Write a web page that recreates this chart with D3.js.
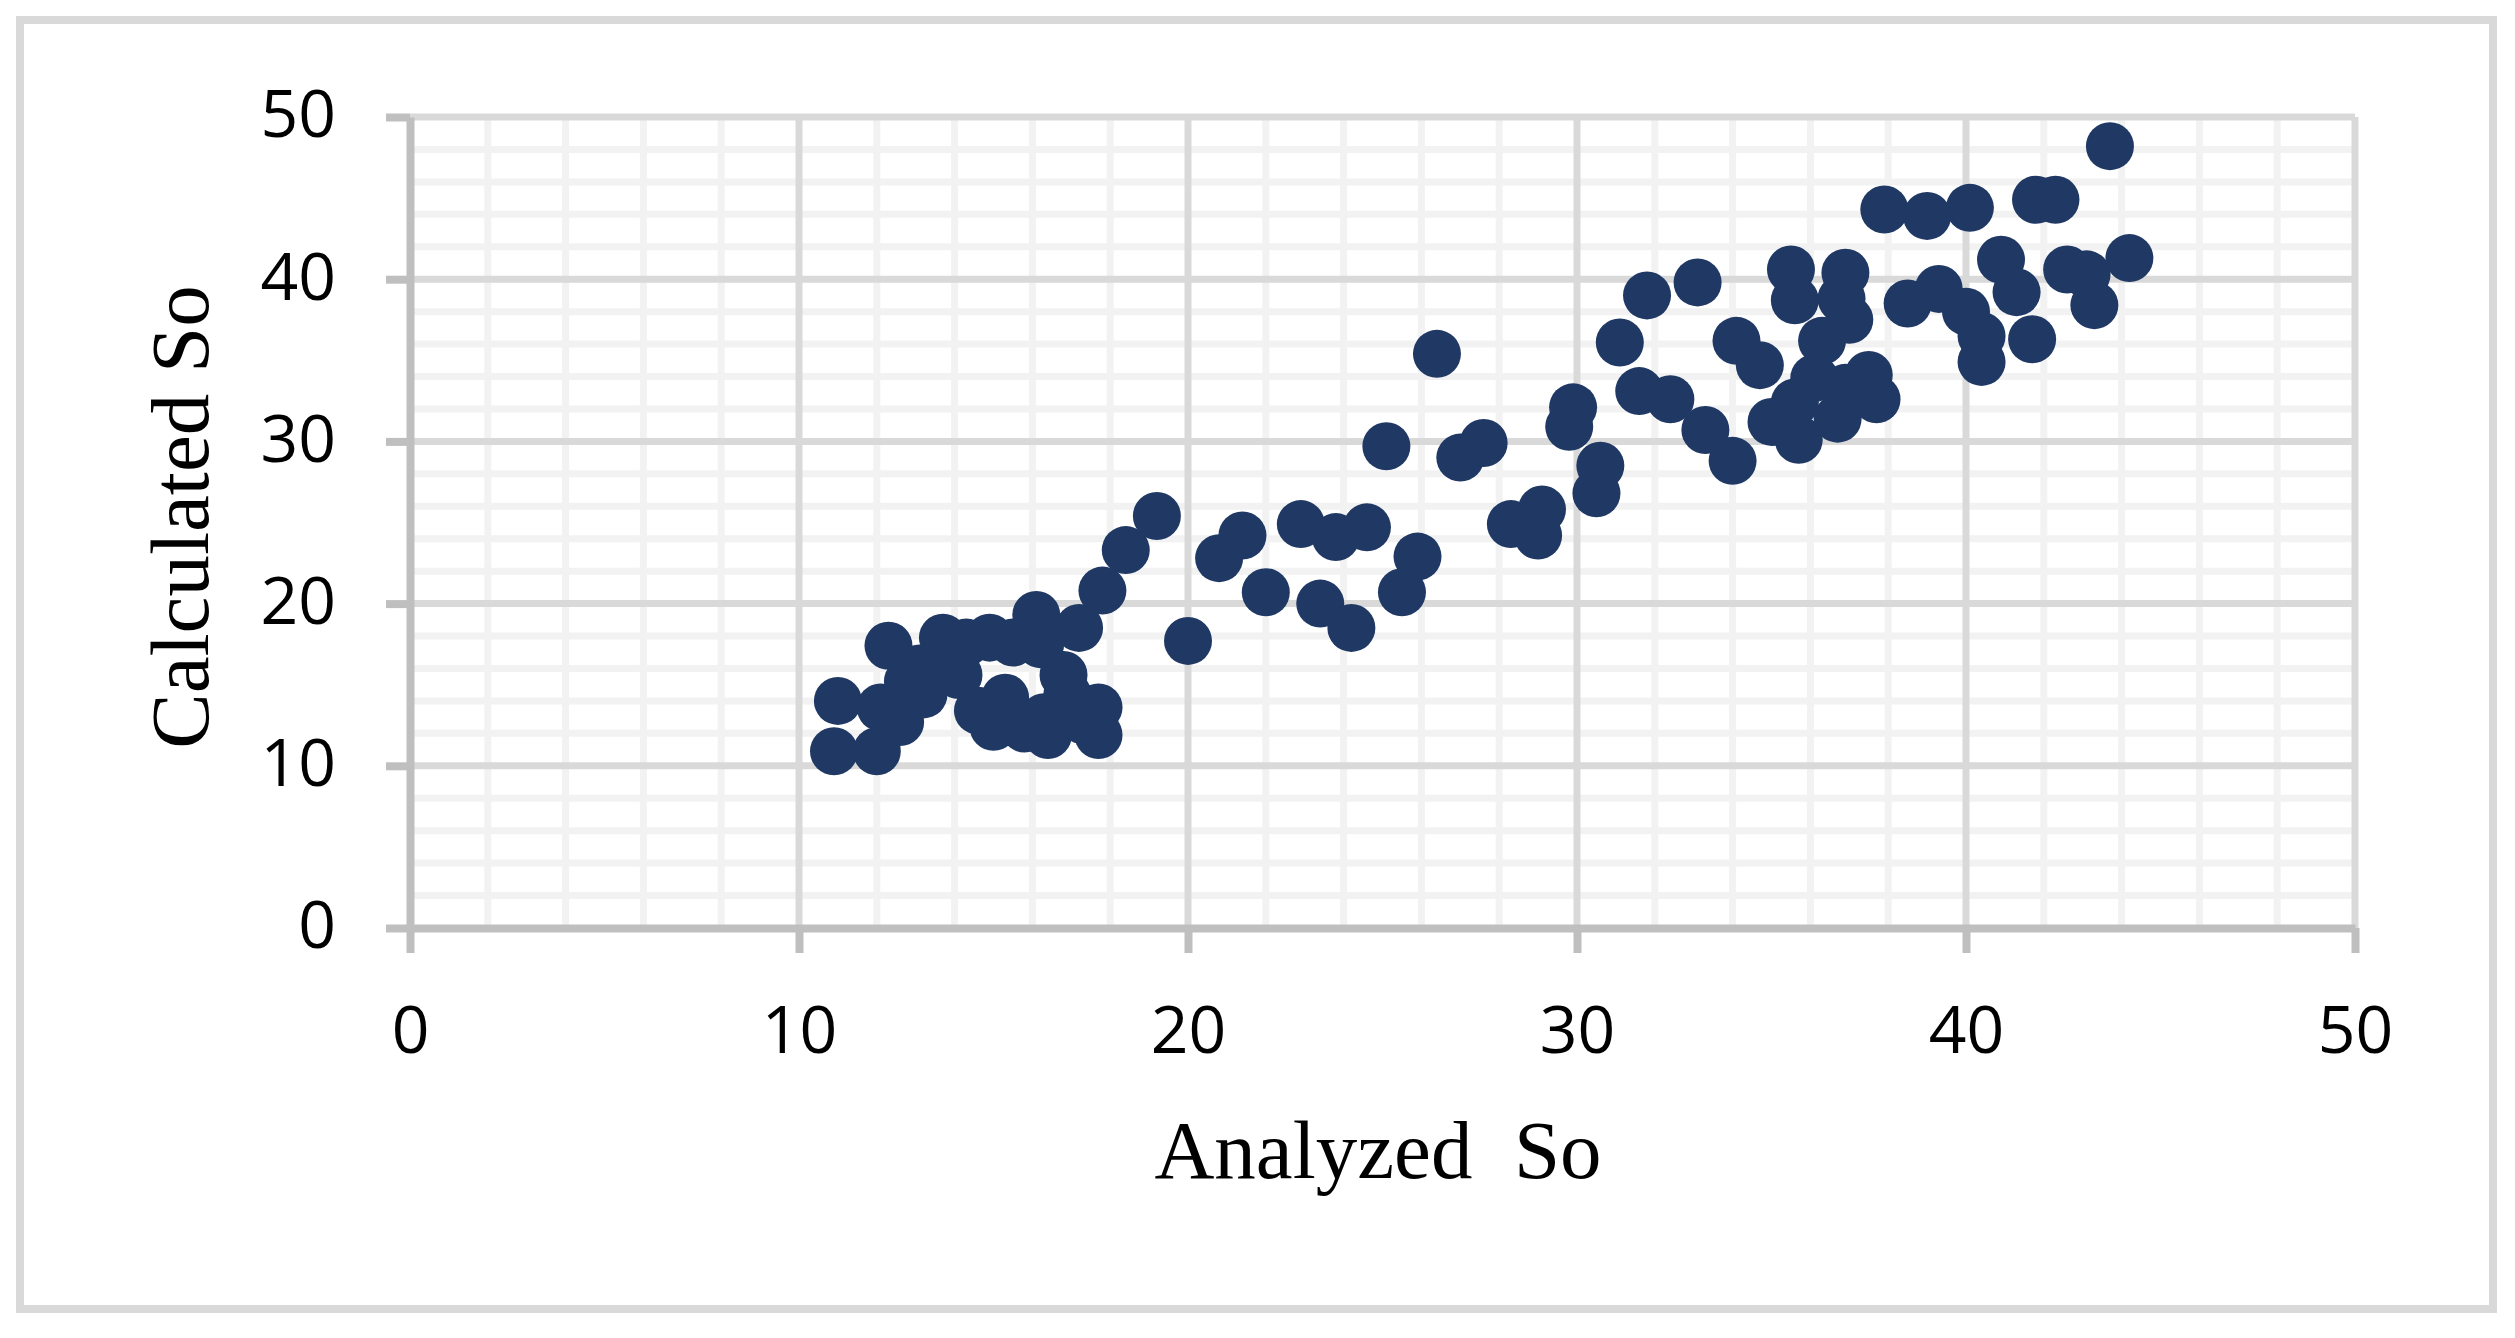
<!DOCTYPE html>
<html>
<head>
<meta charset="utf-8">
<script src="https://cdn.jsdelivr.net/npm/d3@7"></script>
<style>
  body { margin: 0; background: #fff; }
  .tick text { font-family: "Open Sans", sans-serif; font-size: 66px; fill: #000; }
  .title { font-family: "Liberation Serif", "Times New Roman", serif; font-size: 83px; fill: #000; white-space: pre; }
</style>
</head>
<body>
<div id="chart"></div>
<script>
// values (Analyzed So vs Calculated So)
let analyzedSo = [
  10.9, 11.0, 12.0, 12.1, 12.3, 12.6, 13.2, 13.1, 13.7, 14.3, 14.9, 14.6, 15.3, 15.0, 15.5,
  16.1, 16.8, 17.2, 16.4, 15.8, 17.7, 17.7, 17.0, 16.9, 17.8, 18.4, 19.2, 20.0, 14.1, 16.2,
  12.8, 16.3, 17.3,
  20.8, 21.4, 22.0, 22.9, 23.8, 24.6, 23.4, 24.2, 25.9, 25.5, 25.1, 26.4, 27.0, 27.6, 28.3,
  29.1, 29.0, 29.9, 29.8, 30.6, 30.5, 31.1, 31.6, 32.4,
  31.8, 33.1, 33.3, 34.0, 34.1, 34.7, 35.5, 35.6, 36.9, 37.0, 36.3, 36.1, 37.5, 37.7, 35.0,
  35.7, 35.6, 36.7, 36.9, 38.5, 39.3, 40.0, 40.4, 40.4, 36.8,
  37.9, 39.0, 40.1, 41.8, 42.3, 43.7, 40.9, 41.3, 41.7, 42.6, 43.1, 43.3, 44.2
];
let calculatedSo = [
  10.9, 14.0, 10.9, 13.6, 17.4, 12.7, 14.4, 16.0, 17.9, 17.6, 17.9, 13.4, 14.2, 12.4, 17.6,
  19.3, 15.6, 18.5, 11.9, 12.3, 11.9, 13.6, 13.2, 14.4, 20.8, 23.3, 25.4, 17.7, 15.6, 17.5,
  15.2, 13.0, 12.8,
  22.8, 24.2, 20.7, 24.9, 24.1, 24.7, 20.0, 18.5, 22.9, 20.7, 29.7, 35.4, 29.0, 29.9, 24.9,
  25.8, 24.2, 32.1, 30.9, 28.5, 26.8, 36.1, 33.1, 32.6,
  39.0, 39.8, 30.7, 28.8, 36.2, 34.7, 40.6, 38.7, 40.4, 37.5, 36.2, 33.9, 34.1, 32.6, 31.2,
  30.1, 32.4, 31.4, 33.3, 38.5, 39.4, 38.0, 36.5, 34.9, 38.8,
  44.3, 43.9, 44.4, 44.9, 44.9, 48.2, 41.2, 39.2, 36.3, 40.6, 40.3, 38.4, 41.3
];
let majorTicks = [0, 10, 20, 30, 40, 50];
let minorTicks = [2, 4, 6, 8, 12, 14, 16, 18, 22, 24, 26, 28, 32, 34, 36, 38, 42, 44, 46, 48];

let w = 2515;
let h = 1338;

const svg = d3.select("#chart").
append("svg").
attr("width", w).
attr("height", h);

//outer frame
svg.append("rect").
attr("x", 20).
attr("y", 20).
attr("width", 2473).
attr("height", 1289).
attr("fill", "none").
attr("stroke", "#d9d9d9").
attr("stroke-width", 8);

const xScale = d3.scaleLinear().
domain([0, 50]).
range([410, 2355]);
const yScale = d3.scaleLinear().
domain([0, 50]).
range([928, 117]);

//minor grid first, major on top of it
let grid = svg.append("g");
grid.selectAll(".vminor").
data(minorTicks).
enter().
append("line").
attr("x1", d => xScale(d)).
attr("x2", d => xScale(d)).
attr("y1", yScale(0)).
attr("y2", yScale(50)).
attr("stroke", "#f2f2f2").
attr("stroke-width", 7);
grid.selectAll(".hminor").
data(minorTicks).
enter().
append("line").
attr("x1", xScale(0)).
attr("x2", xScale(50)).
attr("y1", d => yScale(d)).
attr("y2", d => yScale(d)).
attr("stroke", "#f2f2f2").
attr("stroke-width", 7);
grid.selectAll(".vmajor").
data(majorTicks.slice(1)).
enter().
append("line").
attr("x1", d => xScale(d)).
attr("x2", d => xScale(d)).
attr("y1", yScale(0)).
attr("y2", yScale(50)).
attr("stroke", "#d9d9d9").
attr("stroke-width", 7);
grid.selectAll(".hmajor").
data(majorTicks.slice(1)).
enter().
append("line").
attr("x1", xScale(0)).
attr("x2", xScale(50)).
attr("y1", d => yScale(d)).
attr("y2", d => yScale(d)).
attr("stroke", "#d9d9d9").
attr("stroke-width", 7);

//axes
let xAxis = d3.axisBottom(xScale).tickValues(majorTicks).tickSizeInner(25).tickSizeOuter(0).tickPadding(53);
let yAxis = d3.axisLeft(yScale).tickValues(majorTicks).tickSizeInner(24).tickSizeOuter(0).tickPadding(50);

let gx = svg.append("g").
attr("transform", "translate(0," + yScale(0) + ")").
call(xAxis);
let gy = svg.append("g").
attr("transform", "translate(" + xScale(0) + ",0)").
call(yAxis);

[gx, gy].forEach(g => {
  g.select(".domain").attr("stroke", "#bfbfbf").attr("stroke-width", 8);
  g.selectAll(".tick line").attr("stroke", "#bfbfbf").attr("stroke-width", 8);
  g.selectAll(".tick text").attr("font-size", null).attr("font-family", null);
});
gy.selectAll(".tick text").attr("dy", "0.3em");

//dots
svg.selectAll("circle.dot").
data(analyzedSo).
enter().
append("circle").
attr("class", "dot").
attr("cx", d => xScale(d)).
attr("cy", (d, i) => yScale(calculatedSo[i])).
attr("r", 24).
attr("fill", "#1f3864");

//axis titles
svg.append("text").
attr("class", "title").
attr("x", 1378).
attr("y", 1178).
attr("text-anchor", "middle").
text("Analyzed  So");

svg.append("text").
attr("class", "title").
attr("transform", "translate(208,517) rotate(-90)").
attr("text-anchor", "middle").
text("Calculated So");
</script>
</body>
</html>
